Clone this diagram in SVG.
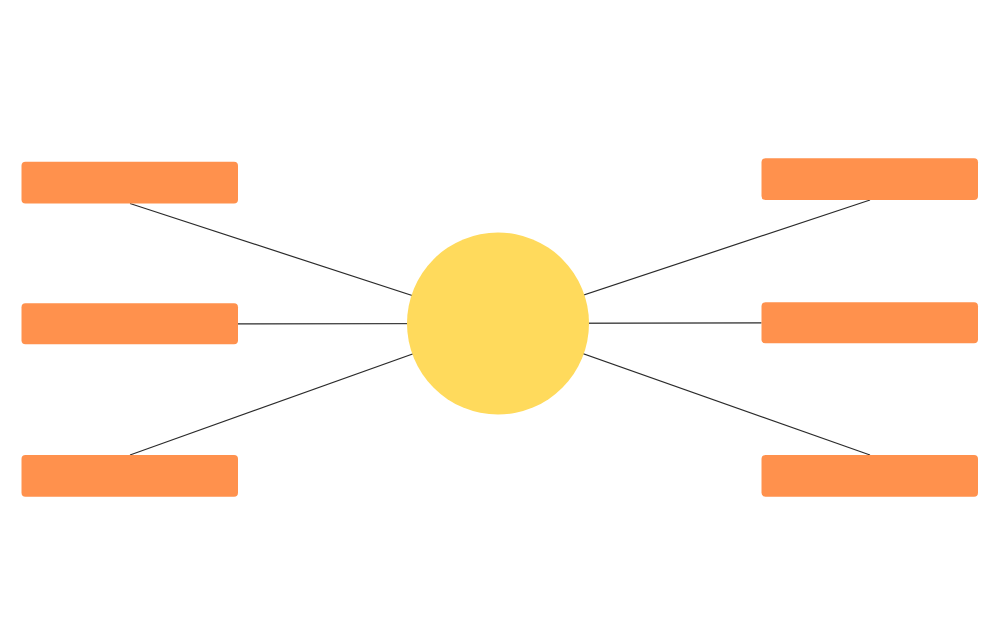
<svg xmlns="http://www.w3.org/2000/svg" width="1000" height="638" viewBox="0 0 1000 638">
<style>
.box{fill:#FF914D}
.hub{fill:#FFDA5C}
.edge{stroke:#2b2b2b;stroke-width:1.2;fill:none}
</style>
<rect width="1000" height="638" fill="#ffffff"/>
<g id="connectors">
<line class="edge" x1="130" y1="203.5" x2="498" y2="323.5"/>
<line class="edge" x1="238" y1="323.8" x2="498" y2="323.5"/>
<line class="edge" x1="130" y1="455" x2="498" y2="323.5"/>
<line class="edge" x1="870" y1="200" x2="498" y2="323.5"/>
<line class="edge" x1="761.5" y1="322.8" x2="498" y2="323.5"/>
<line class="edge" x1="870" y1="455" x2="498" y2="323.5"/>
</g>
<g id="hub"><circle class="hub" cx="498" cy="323.5" r="91"/></g>
<g id="left-top"><rect class="box" x="21.5" y="161.7" width="216.5" height="41.7" rx="4"/></g>
<g id="left-middle"><rect class="box" x="21.5" y="303.3" width="216.5" height="41" rx="4"/></g>
<g id="left-bottom"><rect class="box" x="21.5" y="455" width="216.5" height="41.7" rx="4"/></g>
<g id="right-top"><rect class="box" x="761.5" y="158.3" width="216.5" height="41.7" rx="4"/></g>
<g id="right-middle"><rect class="box" x="761.5" y="302.3" width="216.5" height="41" rx="4"/></g>
<g id="right-bottom"><rect class="box" x="761.5" y="455" width="216.5" height="41.7" rx="4"/></g>
</svg>
